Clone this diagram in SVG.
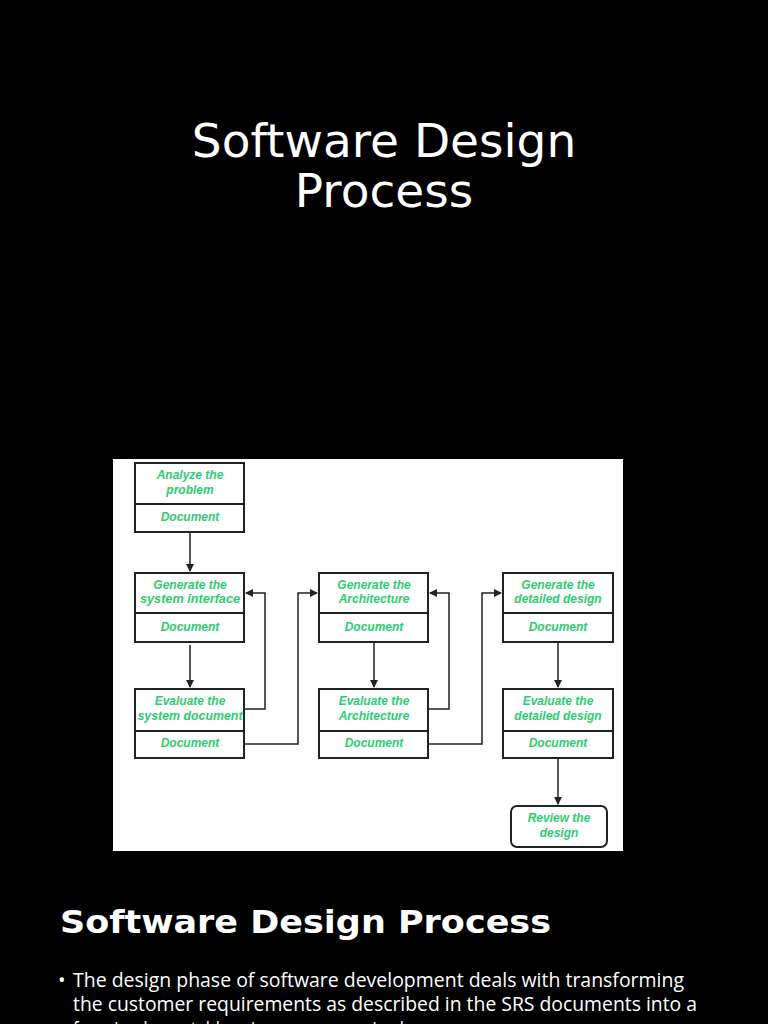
<svg xmlns="http://www.w3.org/2000/svg" width="768" height="1024" viewBox="0 0 768 1024">
<style>
.b{fill:#fff;stroke:#222;stroke-width:2}
.t{font-family:"Liberation Sans",Arial,sans-serif;font-weight:bold;font-style:italic;font-size:12px;fill:#2ecc71;text-anchor:middle}
.c{fill:none;stroke:#222;stroke-width:1.5}
.w{fill:#fff;font-family:"DejaVu Sans",sans-serif}
</style>
<defs><marker id="a" markerWidth="8" markerHeight="8" refX="7" refY="4" orient="auto" markerUnits="userSpaceOnUse"><path d="M0,0L8,4L0,8z" fill="#222"/></marker></defs>
<rect width="768" height="1024" fill="#000"/>
<text class="w" x="384" y="157" font-size="47" text-anchor="middle">Software Design</text>
<text class="w" x="384" y="207" font-size="47" text-anchor="middle">Process</text>
<rect x="113" y="459" width="510" height="392" fill="#fff"/>
<g id="n1"><rect class="b" x="135" y="463" width="109" height="69"/><line class="b" x1="135" y1="504" x2="244" y2="504"/><text class="t" x="190" y="479">Analyze the</text><text class="t" x="190" y="494">problem</text><text class="t" x="190" y="521">Document</text></g>
<g id="n2"><rect class="b" x="135" y="573" width="109" height="69"/><line class="b" x1="135" y1="613" x2="244" y2="613"/><text class="t" x="190" y="589">Generate the</text><text class="t" x="190" y="603" textLength="100" lengthAdjust="spacingAndGlyphs">system interface</text><text class="t" x="190" y="631">Document</text></g>
<g id="n3"><rect class="b" x="135" y="689" width="109" height="69"/><line class="b" x1="135" y1="731" x2="244" y2="731"/><text class="t" x="190" y="705">Evaluate the</text><text class="t" x="190" y="720" textLength="105" lengthAdjust="spacingAndGlyphs">system document</text><text class="t" x="190" y="747">Document</text></g>
<g id="n4"><rect class="b" x="319" y="573" width="109" height="69"/><line class="b" x1="319" y1="613" x2="428" y2="613"/><text class="t" x="374" y="589">Generate the</text><text class="t" x="374" y="603">Architecture</text><text class="t" x="374" y="631">Document</text></g>
<g id="n5"><rect class="b" x="319" y="689" width="109" height="69"/><line class="b" x1="319" y1="731" x2="428" y2="731"/><text class="t" x="374" y="705">Evaluate the</text><text class="t" x="374" y="720">Architecture</text><text class="t" x="374" y="747">Document</text></g>
<g id="n6"><rect class="b" x="503" y="573" width="110" height="69"/><line class="b" x1="503" y1="613" x2="613" y2="613"/><text class="t" x="558" y="589">Generate the</text><text class="t" x="558" y="603">detailed design</text><text class="t" x="558" y="631">Document</text></g>
<g id="n7"><rect class="b" x="503" y="689" width="110" height="69"/><line class="b" x1="503" y1="731" x2="613" y2="731"/><text class="t" x="558" y="705">Evaluate the</text><text class="t" x="558" y="720">detailed design</text><text class="t" x="558" y="747">Document</text></g>
<g id="n8"><rect class="b" x="511" y="806" width="96" height="41" rx="6"/><text class="t" x="559" y="822">Review the</text><text class="t" x="559" y="837">design</text></g>
<g id="connectors">
<path class="c" marker-end="url(#a)" d="M190,532V571"/>
<path class="c" marker-end="url(#a)" d="M190,645V687"/>
<path class="c" marker-end="url(#a)" d="M374,642V687"/>
<path class="c" marker-end="url(#a)" d="M558,642V687"/>
<path class="c" marker-end="url(#a)" d="M558,758V804"/>
<path class="c" marker-end="url(#a)" d="M244,709H265V593H246"/>
<path class="c" marker-end="url(#a)" d="M244,744H298V593H317"/>
<path class="c" marker-end="url(#a)" d="M428,709H449V593H430"/>
<path class="c" marker-end="url(#a)" d="M428,744H482V593H501"/>
</g>
<text class="w" x="60" y="933" font-size="32" font-weight="bold" textLength="491" lengthAdjust="spacingAndGlyphs">Software Design Process</text>
<g font-family="Open Sans,sans-serif" font-size="20" fill="#fff">
<text x="58" y="987">•</text>
<text x="73" y="987" textLength="611" lengthAdjust="spacingAndGlyphs">The design phase of software development deals with transforming</text>
<text x="73" y="1011" textLength="624" lengthAdjust="spacingAndGlyphs">the customer requirements as described in the SRS documents into a</text>
<text x="73" y="1036" textLength="400" lengthAdjust="spacingAndGlyphs">form implementable using a programming language.</text>
</g>
</svg>
